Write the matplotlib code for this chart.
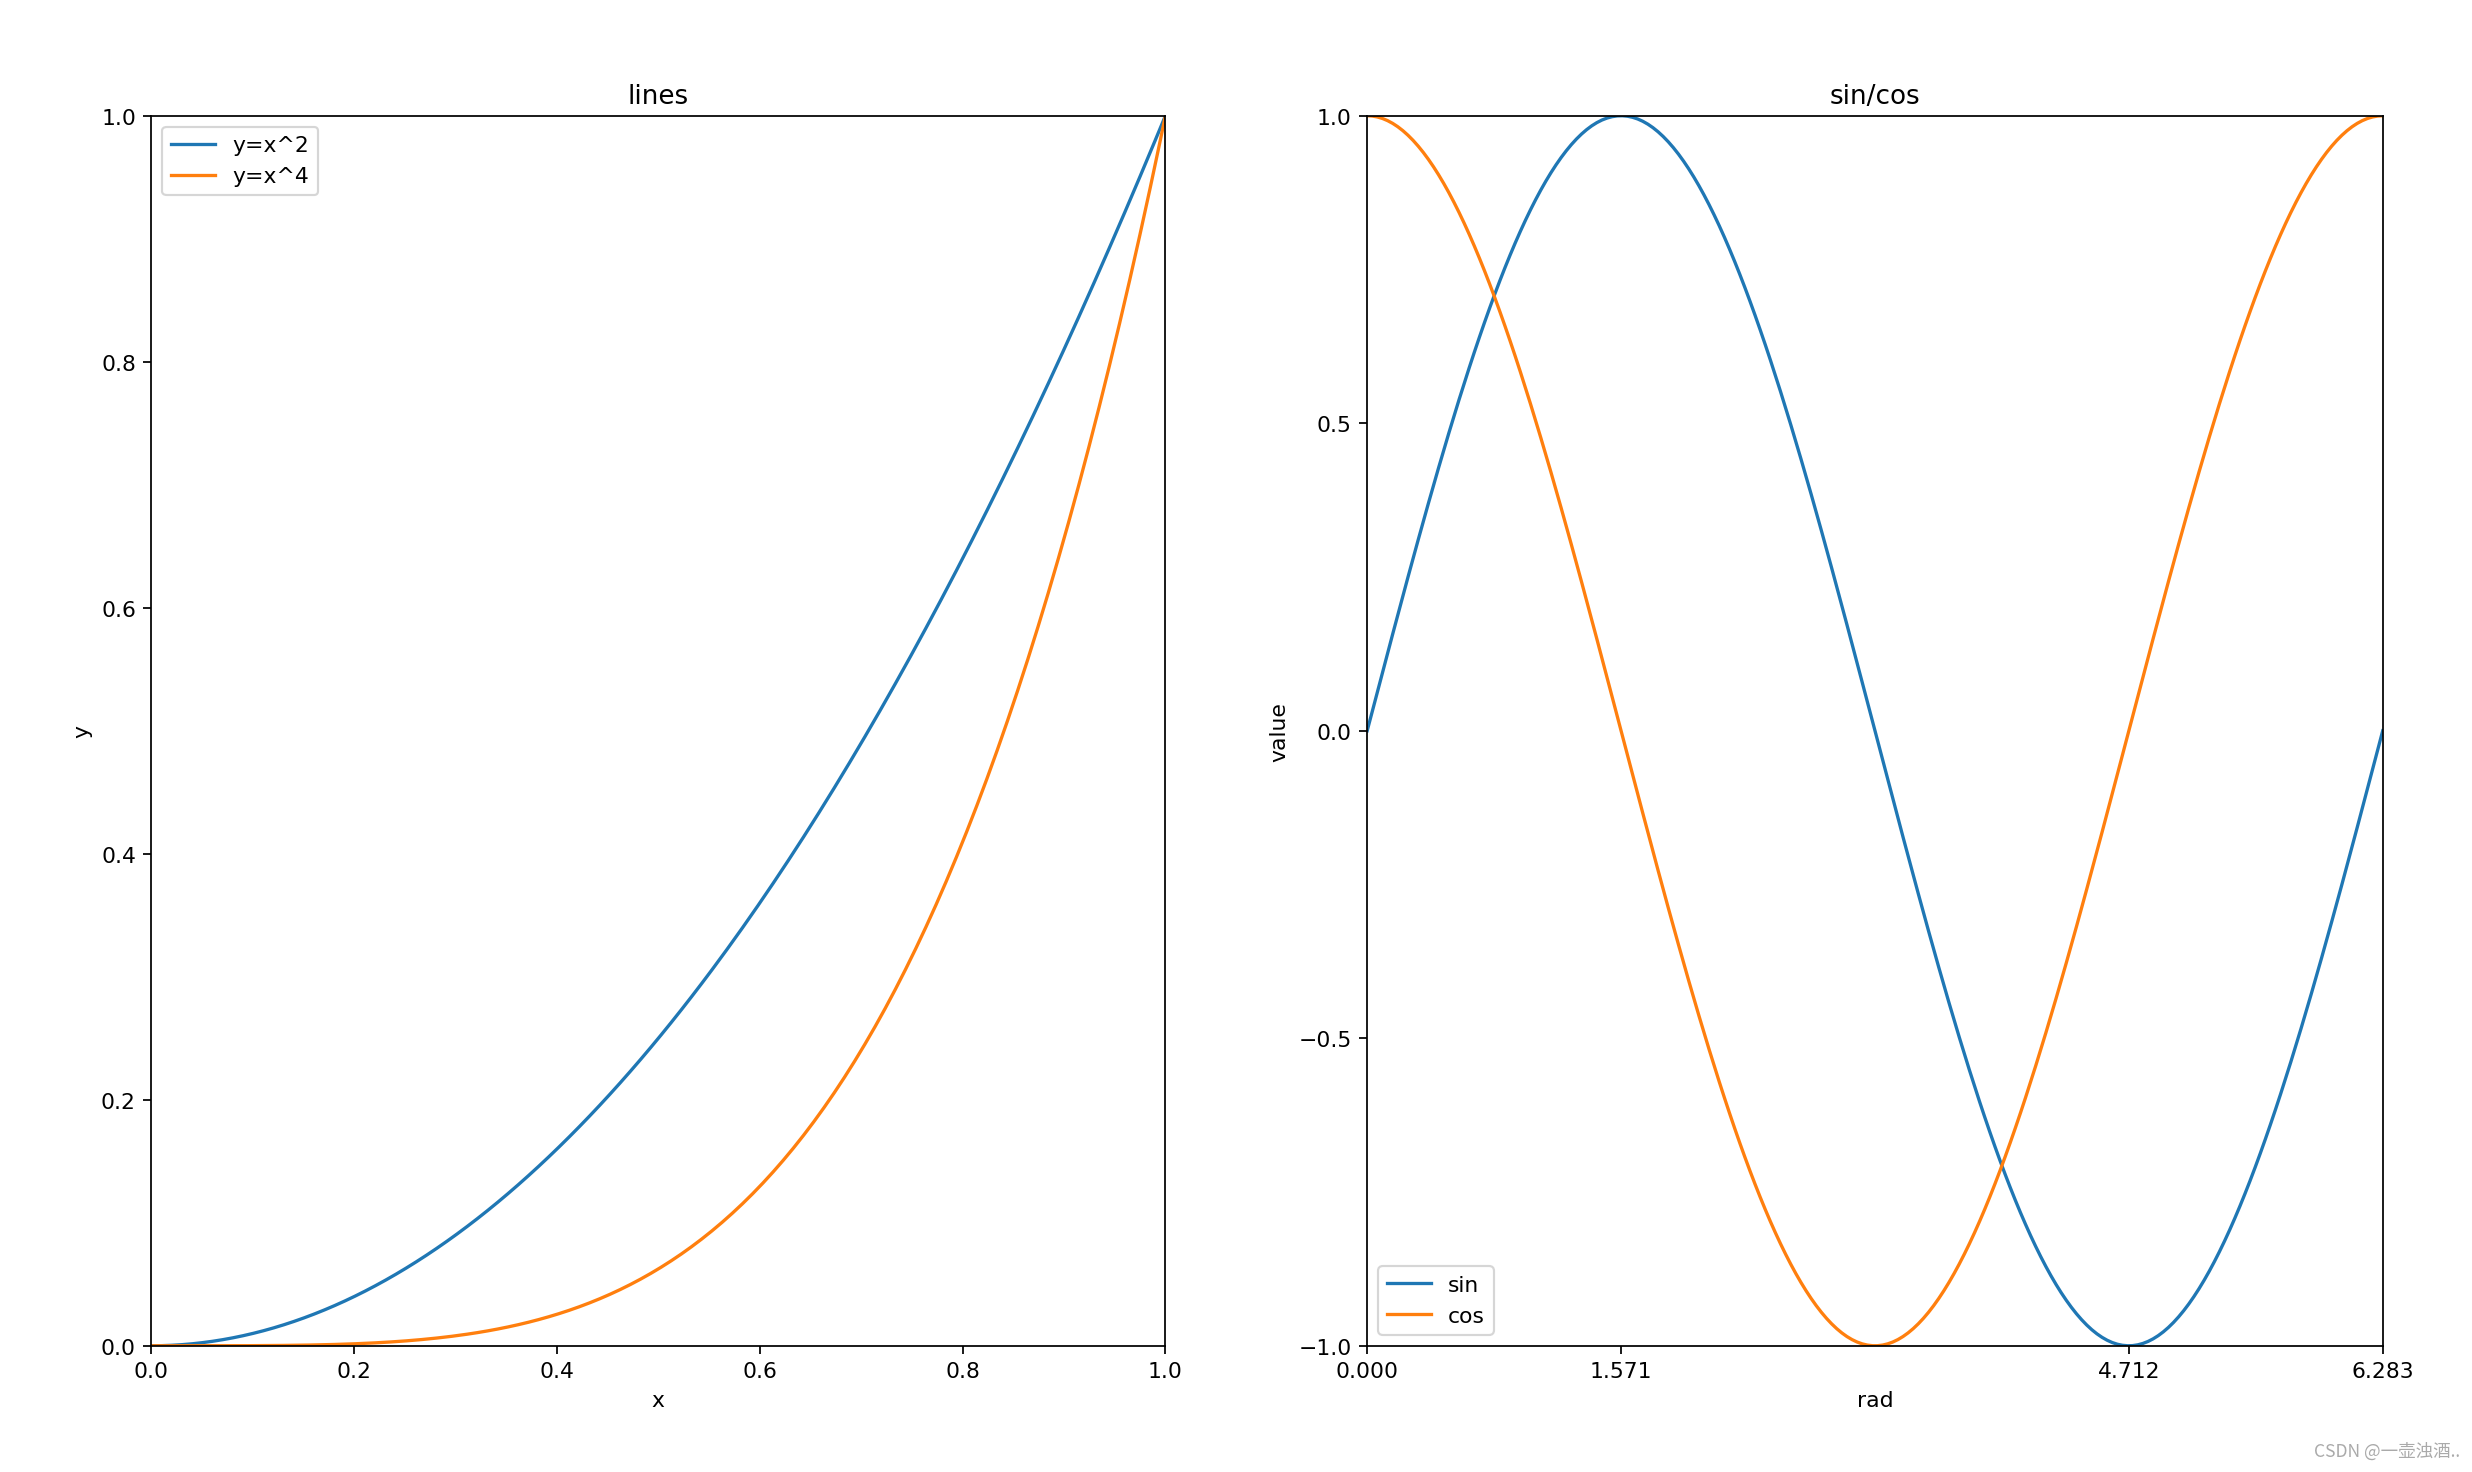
import numpy as np
import matplotlib
matplotlib.use("Agg")
import matplotlib.pyplot as plt

x1 = np.linspace(0, 1, 200)
exponents = [2, 4]
labels1 = ["y=x^2", "y=x^4"]
x2 = np.linspace(0, 2 * np.pi, 200)
labels2 = ["sin", "cos"]
xticks2 = [0.0, 1.571, 4.712, 6.283]
xticklabels2 = ["0.000", "1.571", "4.712", "6.283"]
yticks2 = [-1.0, -0.5, 0.0, 0.5, 1.0]

fig = plt.figure(figsize=(15.68, 9.34), dpi=157.7)
ax1 = fig.add_axes([0.0612, 0.0857, 0.4101, 0.8351])
ax2 = fig.add_axes([0.5529, 0.0857, 0.4107, 0.8351])

for e, lab in zip(exponents, labels1):
    ax1.plot(x1, x1 ** e, label=lab)
ax1.set_xlim(0, 1); ax1.set_ylim(0, 1)
ax1.set_title("lines"); ax1.set_xlabel("x"); ax1.set_ylabel("y")
ax1.legend(loc="upper left")

ax2.plot(x2, np.sin(x2), label=labels2[0])
ax2.plot(x2, np.cos(x2), label=labels2[1])
ax2.set_xlim(0, 2 * np.pi); ax2.set_ylim(-1, 1)
ax2.set_xticks(xticks2); ax2.set_xticklabels(xticklabels2)
ax2.set_yticks(yticks2)
ax2.set_title("sin/cos"); ax2.set_xlabel("rad"); ax2.set_ylabel("value")
ax2.legend(loc="lower left")

fig.text(0.995, 0.008, "CSDN @一壶浊酒..", ha="right", va="bottom", fontsize=8,
         color="#aaaaaa", family=["Noto Sans CJK SC", "DejaVu Sans"])
fig.savefig("out.png", dpi=157.7)
